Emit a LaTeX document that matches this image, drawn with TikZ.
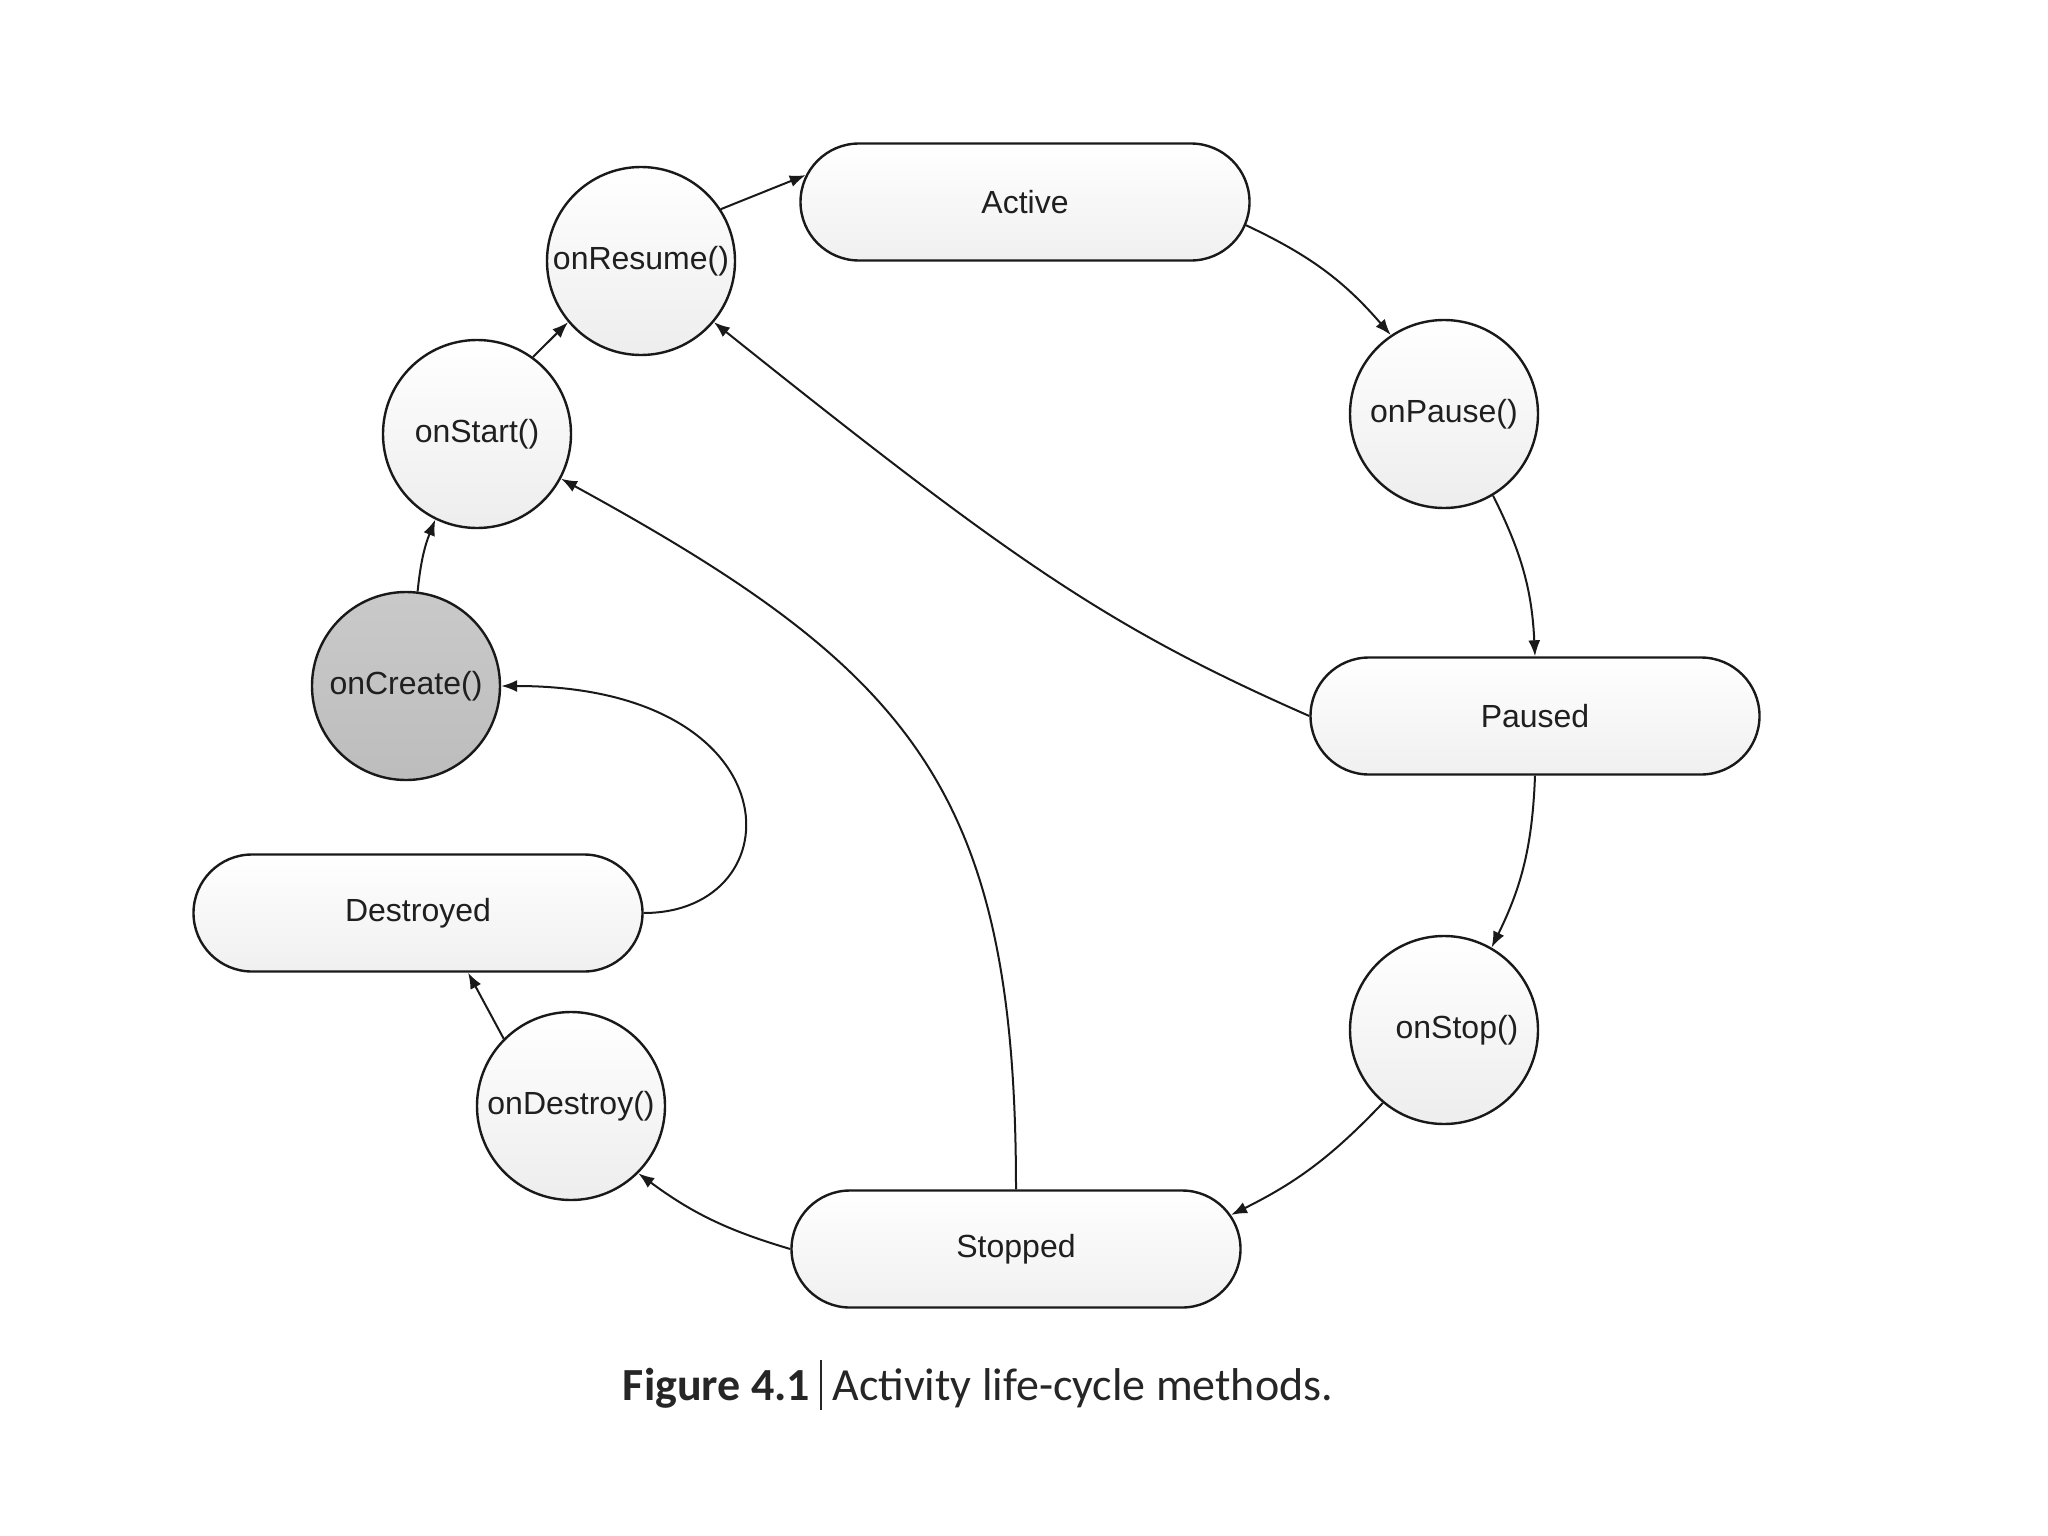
\documentclass[tikz,border=0pt]{standalone}
\usepackage{fontspec}
\setmainfont{Liberation Sans}
\newfontfamily\capfont{Carlito}
\usetikzlibrary{arrows.meta,shapes.misc}

\begin{document}
\begin{tikzpicture}[x=1pt,y=1pt,
  every node/.style={font=\fontsize{32}{38}\selectfont, text=black!88},
  meth/.style={circle, draw=black!90, line width=2.4pt, minimum size=188pt, inner sep=0pt, top color=white, bottom color=black!7},
  createnode/.style={meth, top color=black!21, bottom color=black!26},
  statebox/.style={rounded rectangle, draw=black!90, line width=2.4pt, minimum width=449pt, minimum height=117pt, inner sep=0pt, top color=white, bottom color=black!6},
  conn/.style={draw=black!90, line width=2pt, -{Latex[length=16pt,width=12pt]}}
]
\fill[white] (0,0) rectangle (2048,-1536);
\useasboundingbox (0,0) rectangle (2048,-1536);

% states
\node[statebox] (active) at (1025,-202) {Active};
\node[statebox] (paused) at (1535,-716) {Paused};
\node[statebox] (destroyed) at (418,-913) {Destroyed};
\node[statebox] (stopped) at (1016,-1249) {Stopped};

% methods
\node[meth] (resume) at (641,-261) {onResume()};
\node[meth] (start) at (477,-434) {onStart()};
\node[meth] (pause) at (1444,-414) {onPause()};
\node[createnode] (create) at (406,-686) {onCreate()};
\node[meth] (stop) at (1444,-1030) {\hspace*{26pt}onStop()};
\node[meth] (destroy) at (571,-1106) {onDestroy()};

% connectors
\draw[conn] (resume.33) -- (active.173);
\draw[conn] (active.-6) to[bend left=12] (pause.124);
\draw[conn] (pause.-59) to[bend left=12] (paused.north);
\draw[conn] (paused.south) to[bend left=12] (stop.60);
\draw[conn] (stop.230) to[bend left=10] (stopped.9);
\draw[conn] (stopped.west) to[bend left=10] (destroy.-45);
\draw[conn] (destroy.135) -- (destroyed.-50);
\draw[conn] (destroyed.east) .. controls +(153,0) and +(296,0) .. (create.east);
\draw[conn] (create.83) to[bend left=8] (start.-116);
\draw[conn] (start.54) -- (resume.220);
\draw[conn] (paused.west) .. controls +(-200,88) and +(300,-240) .. (resume.-40);
\draw[conn] (stopped.north) .. controls +(0,400) and +(351,-192) .. (start.-28);

% caption
\node[font=\capfont\fontsize{46}{55}\selectfont, anchor=base, text=black!85, inner sep=0pt] (cap) at (978,-1400)
  {\textbf{Figure 4.1}\hspace{0.22em}\rule[-0.22em]{0.045em}{1.08em}\hspace{0.22em}Activity life-cycle methods.};
\end{tikzpicture}
\end{document}
